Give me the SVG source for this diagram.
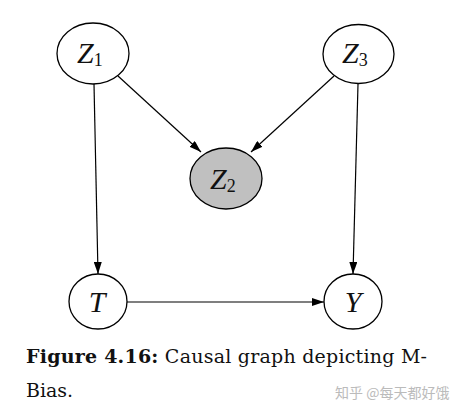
<svg xmlns="http://www.w3.org/2000/svg" width="456" height="411" viewBox="0 0 456 411">
<style>
.node{fill:#fff;stroke:#000;stroke-width:1.3}
.gray{fill:#c0c0c0}
.lbl{font-family:"Liberation Serif","DejaVu Serif",serif;font-style:italic;font-size:30px;fill:#111}
.sub{font-style:normal;font-size:18px}
.edge{stroke:#000;stroke-width:1.2;fill:none;marker-end:url(#arr)}
.cap{font-family:"DejaVu Serif","Liberation Serif",serif;font-size:19px;fill:#111}
.wm{font-family:"Noto Sans CJK SC","Liberation Sans",sans-serif;font-size:14px;fill:#bbb}
</style>
<defs>
<marker id="arr" viewBox="0 0 12 8" refX="12" refY="4" markerWidth="12" markerHeight="8" markerUnits="userSpaceOnUse" orient="auto">
<path d="M0,0 L12,4 L0,8 Z" fill="#000"/>
</marker>
</defs>
<rect width="456" height="411" fill="#fff"/>
<g id="connectors">
<line class="edge" x1="94" y1="84" x2="98" y2="274"/>
<line class="edge" x1="358" y1="84" x2="353" y2="274"/>
<line class="edge" x1="118" y1="76" x2="201" y2="152"/>
<line class="edge" x1="334" y1="76" x2="251" y2="152"/>
<line class="edge" x1="127" y1="302" x2="324" y2="302"/>
</g>
<g id="Z1">
<ellipse class="node" cx="93" cy="53.5" rx="36" ry="30.5"/>
<text class="lbl" x="77" y="63">Z<tspan class="sub" dy="3">1</tspan></text>
</g>
<g id="Z3">
<ellipse class="node" cx="358.5" cy="54" rx="35.5" ry="29.5"/>
<text class="lbl" x="342" y="63">Z<tspan class="sub" dy="3">3</tspan></text>
</g>
<g id="Z2">
<ellipse class="node gray" cx="226" cy="178.5" rx="36" ry="30.5"/>
<text class="lbl" x="210" y="189">Z<tspan class="sub" dy="3">2</tspan></text>
</g>
<g id="T">
<ellipse class="node" cx="98" cy="301.5" rx="29" ry="27.5"/>
<text class="lbl" x="97" y="312" text-anchor="middle">T</text>
</g>
<g id="Y">
<ellipse class="node" cx="353" cy="301.5" rx="29" ry="27.5"/>
<text class="lbl" x="353" y="312" text-anchor="middle">Y</text>
</g>
<g id="caption">
<text class="cap" x="26" y="363" textLength="401" lengthAdjust="spacing"><tspan font-weight="bold">Figure 4.16:</tspan> Causal graph depicting M-</text>
<text class="cap" x="26" y="397">Bias.</text>
<text class="wm" x="335" y="398">知乎 @每天都好饿</text>
</g>
</svg>
